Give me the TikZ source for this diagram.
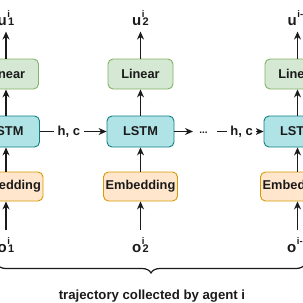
\documentclass[tikz,border=0pt]{standalone}
\usepackage{fontspec}
\setmainfont{Liberation Sans}
\usetikzlibrary{arrows.meta,decorations.pathreplacing}
\definecolor{linfill}{HTML}{D5E8D4}
\definecolor{lindraw}{HTML}{82B366}
\definecolor{lstmfill}{HTML}{B0E3E6}
\definecolor{lstmdraw}{HTML}{0E8088}
\definecolor{embfill}{HTML}{FFE6CC}
\definecolor{embdraw}{HTML}{D79B00}
\definecolor{ink}{HTML}{1A1A1A}
\newcommand\seqlab[3]{#1\kern0.6pt\rlap{\raisebox{7.6pt}{\fontsize{9.5}{10}\selectfont #2}}\kern0.7pt\raisebox{-0.6pt}{\fontsize{11}{12}\selectfont #3}}
\newcommand\suplab[2]{#1\kern0.6pt\raisebox{7.6pt}{\fontsize{9.5}{10}\selectfont #2}}
\tikzset{
  box/.style={draw, rounded corners=5pt, line width=0.9pt, inner sep=0pt,
    text=ink, font=\fontsize{12.8}{14}\selectfont\bfseries},
  linbox/.style={box, fill=linfill, draw=lindraw, minimum width=65pt, minimum height=30pt},
  lstmbox/.style={box, fill=lstmfill, draw=lstmdraw, minimum width=67pt, minimum height=31pt},
  embbox/.style={box, fill=embfill, draw=embdraw, minimum width=74pt, minimum height=29pt},
  arr/.style={draw=ink, line width=1.2pt, -{Stealth[length=8pt,width=7pt]}},
  lbl/.style={text=ink, font=\fontsize{15}{17}\selectfont\bfseries, inner sep=0pt, anchor=base},
  hc/.style={text=ink, font=\fontsize{13}{15}\selectfont\bfseries, fill=white, inner sep=3.5pt}
}
\begin{document}
\begin{tikzpicture}[x=1pt,y=-1pt]
\useasboundingbox (0,0) rectangle (303,303);
% column 1
\node[linbox]  (lin1)  at (6,74)   {Linear};
\node[lstmbox] (lstm1) at (6,131.5){LSTM};
\node[embbox]  (emb1)  at (6,186.5){Embedding};
\node[lbl] (u1) at (6,25) {\seqlab{u}{i}{1}};
\node[lbl] (o1) at (6,252) {\seqlab{o}{i}{1}};
% column 2
\node[linbox]  (lin2)  at (140.5,74)   {Linear};
\node[lstmbox] (lstm2) at (140.5,131.5){LSTM};
\node[embbox]  (emb2)  at (140.5,186.5){Embedding};
\node[lbl] (u2) at (140.5,25) {\seqlab{u}{i}{2}};
\node[lbl] (o2) at (140.5,252) {\seqlab{o}{i}{2}};
% column 3
\node[linbox]  (lin3)  at (297.5,74)   {Linear};
\node[lstmbox] (lstm3) at (297.5,131.5){LSTM};
\node[embbox]  (emb3)  at (297.5,186.5){Embedding};
\node[lbl, anchor=base west] (u3) at (287.5,25) {\suplab{u}{i-1}};
\node[lbl, anchor=base west] (o3) at (287,252) {\suplab{o}{i-1}};
% vertical arrows
\foreach \c in {1,2,3}{
  \coordinate (ut\c) at ([yshift=27pt]lin\c.north);
  \coordinate (ob\c) at ([yshift=-29pt]emb\c.south);
  \draw[arr] (lin\c.north) -- (ut\c);
  \draw[arr] (lstm\c.north) -- (lin\c.south);
  \draw[arr] (emb\c.north) -- (lstm\c.south);
  \draw[arr] (ob\c) -- (emb\c.south);
}
% recurrent connections
\draw[arr] (lstm1.east) -- node[hc, pos=0.434] {h, c} (lstm2.west);
\coordinate (d1) at (193,131.5);
\draw[arr] (lstm2.east) -- (d1);
\node[text=ink, font=\fontsize{10}{12}\selectfont\bfseries, inner sep=0pt, anchor=base] (dots) at (203.5,133) {...};
\coordinate (d2) at (217,131.5);
\draw[arr] (d2) -- node[hc, pos=0.53] {h, c} (lstm3.west);
% brace
\draw[draw=ink, line width=1.2pt, decorate, decoration={brace, mirror, amplitude=9pt}] (-3,264) -- (305,264);
\node[text=ink, font=\fontsize{13.2}{15}\selectfont\bfseries, inner sep=0pt, anchor=base] (cap) at (152,299.5) {trajectory collected by agent i};
\end{tikzpicture}
\end{document}
